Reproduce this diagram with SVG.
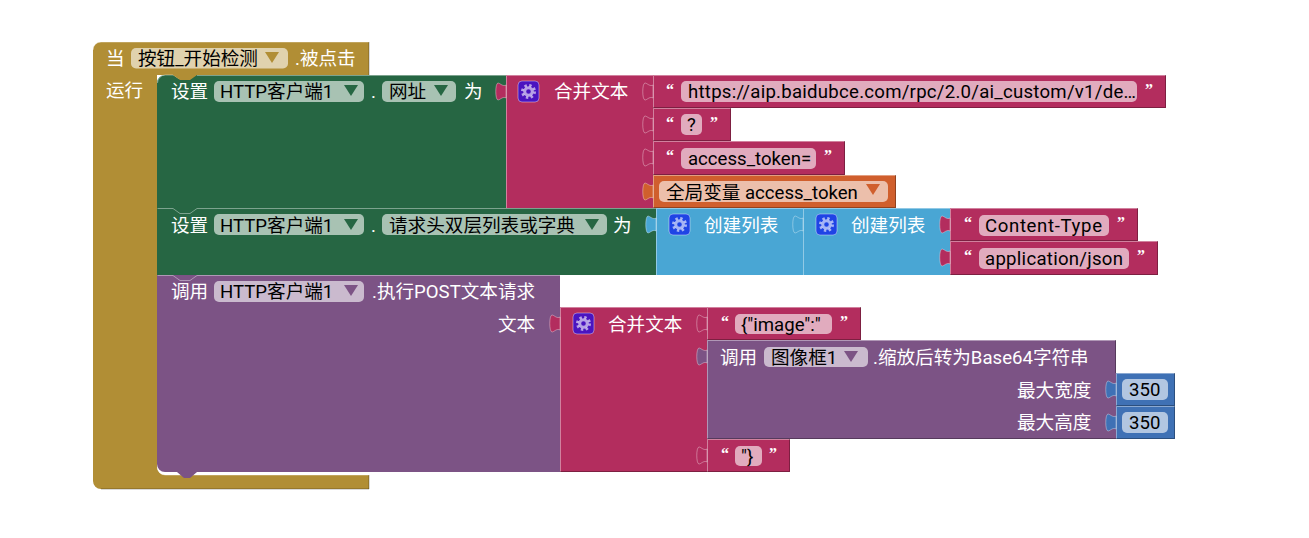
<svg xmlns="http://www.w3.org/2000/svg" width="1309" height="538" viewBox="0 0 1309 538">
<style>
text{font-family:Roboto,"Noto Sans CJK SC",sans-serif;font-size:18.6px;transform:translateY(.6px)}
.w{fill:#fff}.b{fill:#000}
.q{font-family:"Liberation Serif",serif;font-weight:bold;font-size:16px;fill:#fff;transform:translate(1px,-3px)}
.f{fill:#fff;fill-opacity:.6}
.gold{fill:#b18e35}.green{fill:#266643}.mag{fill:#b32d5e}.pur{fill:#7c5385}.blue{fill:#49a6d4}.num{fill:#3f71b5}.org{fill:#d05f2d}
.lt{fill:none;stroke:#fff;stroke-opacity:.4;stroke-width:1}
.dk{fill:none;stroke:#000;stroke-opacity:.3;stroke-width:1}
.ts{stroke:#fff;stroke-opacity:.35;stroke-width:1}
.ga{fill:none;stroke:#fff;stroke-opacity:.6;stroke-width:3}
.gb{fill:none;stroke:#fff;stroke-opacity:.6;stroke-width:2.6;stroke-dasharray:2.4 2.47}
</style>
<defs>
<path id="tab" d="M0,2 c-3,2 -6,-2 -8,-2 c-3,0 -3,17 0,17 c2,0 5,-4 8,-2 z"/>
<path id="tri" d="M0,0 h14 l-7,11z"/>
<g id="gear"><circle cx="10.5" cy="10.5" r="3.8" class="ga"/><circle cx="10.5" cy="10.5" r="6.2" class="gb"/></g>
</defs>

<g id="when-block">
<path class="gold" d="M93,50 a8,8 0 0 1 8,-8 H369 V75 H157 V467 a8,8 0 0 0 8,8 H369 V489 H101 a8,8 0 0 1 -8,-8 Z"/>
<path class="lt" d="M93,50 a8,8 0 0 1 8,-8 H369 M157.500,467 a8,8 0 0 0 8,8 H369"/>
<path class="dk" d="M369,42 V75 M369,475 V489 H101"/>
<text class="w" x="106" y="64">当</text>
<rect class="f" x="131" y="48" width="157" height="20.500" rx="5"/>
<text class="b" x="138" y="64">按钮_开始检测</text>
<use href="#tri" x="265" y="52" class="gold"/>
<text class="w" x="295" y="64">.被点击</text>
<text class="w" x="106" y="96">运行</text>
</g>

<g id="set-url">
<path class="green" d="M157,83 a8,8 0 0 1 8,-8 H173 l6,4 h11 l6,-4 H506 V208 H157 Z"/>
<path class="gold" d="M173,75 l7,5 h10 l7,-5z"/>
<path class="lt" d="M157.500,83 a8,8 0 0 1 8,-8 H173 M197,75.500 H506"/>
<text class="w" x="171" y="97">设置</text>
<rect class="f" x="214" y="81" width="150" height="21" rx="5"/>
<text class="b" x="220" y="97">HTTP客户端1</text>
<use href="#tri" x="344" y="85" class="green"/>
<text class="w" x="371" y="97">.</text>
<rect class="f" x="382" y="81" width="74" height="21" rx="5"/>
<text class="b" x="389" y="97">网址</text>
<use href="#tri" x="434" y="85" class="green"/>
<text class="w" x="464" y="97">为</text>
</g>

<g id="set-headers">
<path class="green" d="M157,208 H656 V275 H157 Z"/>
<path class="lt" d="M157.500,208.500 H173 l7,5 h10 l7,-5 H656"/>
<text class="w" x="171" y="231">设置</text>
<rect class="f" x="214" y="214" width="150" height="21" rx="5"/>
<text class="b" x="220" y="231">HTTP客户端1</text>
<use href="#tri" x="344" y="219" class="green"/>
<text class="w" x="371" y="231">.</text>
<rect class="f" x="382" y="214" width="225" height="21" rx="5"/>
<text class="b" x="389" y="231">请求头双层列表或字典</text>
<use href="#tri" x="585" y="219" class="green"/>
<text class="w" x="613" y="231">为</text>
</g>

<g id="call-post">
<path class="pur" d="M157,275 H560 V472 H197 l-7,6 h-6 l-7,-6 H165 a8,8 0 0 1 -8,-8 Z"/>
<path class="lt" d="M157.500,275.500 H173 l7,5 h10 l7,-5 H560"/>
<text class="w" x="171" y="297">调用</text>
<rect class="f" x="214" y="281" width="150" height="21" rx="5"/>
<text class="b" x="220" y="297">HTTP客户端1</text>
<use href="#tri" x="344" y="285" class="pur"/>
<text class="w" x="372" y="297">.执行POST文本请求</text>
<text class="w" x="498" y="330">文本</text>
</g>

<g id="join-url">
<rect class="mag" x="506" y="75" width="147" height="133"/>
<use href="#tab" x="506" y="83" class="mag ts"/>
<path class="lt" d="M506.500,208 V75.500 H653"/>
<rect x="518" y="81" width="21" height="21" rx="4" fill="#4a14c0" stroke="#fff" stroke-opacity=".4"/>
<use href="#gear" x="518" y="81"/>
<text class="w" x="554" y="97">合并文本</text>
</g>

<g id="text-url">
<rect class="mag" x="653" y="75" width="513" height="33"/>
<use href="#tab" x="653" y="83" class="mag ts"/>
<path class="lt" d="M653.500,108 V75.500 H1166"/><path class="dk" d="M1165.500,75 V107.500 H653"/>
<text class="q" x="665" y="98">“</text>
<rect class="f" x="681" y="81" width="456" height="21" rx="5"/>
<text class="b" x="688" y="97" textLength="448">https://aip.baidubce.com/rpc/2.0/ai_custom/v1/de…</text>
<text class="q" x="1144" y="98">”</text>
</g>
<g id="text-question">
<rect class="mag" x="653" y="108" width="78" height="33"/>
<use href="#tab" x="653" y="116" class="mag ts"/>
<path class="lt" d="M653.500,141 V108.500 H731"/><path class="dk" d="M730.500,108 V140.500 H653"/>
<text class="q" x="665" y="131">“</text>
<rect class="f" x="681" y="114" width="21" height="21" rx="5"/>
<text class="b" x="687" y="130">?</text>
<text class="q" x="709" y="131">”</text>
</g>
<g id="text-token">
<rect class="mag" x="653" y="141" width="192" height="34"/>
<use href="#tab" x="653" y="149" class="mag ts"/>
<path class="lt" d="M653.500,175 V141.500 H845"/><path class="dk" d="M844.500,141 V174.500 H653"/>
<text class="q" x="665" y="164">“</text>
<rect class="f" x="681" y="148" width="135" height="21" rx="5"/>
<text class="b" x="688" y="164">access_token=</text>
<text class="q" x="823" y="164">”</text>
</g>
<g id="global-token">
<rect class="org" x="653" y="175" width="243" height="33"/>
<use href="#tab" x="653" y="183" class="org ts"/>
<path class="lt" d="M653.500,208 V175.500 H896"/><path class="dk" d="M895.500,175 V207.500 H653"/>
<rect class="f" x="659" y="181" width="229" height="21" rx="5"/>
<text class="b" x="666" y="198">全局变量 access_token</text>
<use href="#tri" x="866" y="184" class="org"/>
</g>

<g id="list-outer">
<rect class="blue" x="656" y="208" width="147" height="67"/>
<use href="#tab" x="656" y="216" class="blue ts"/>
<path class="lt" d="M656.500,275 V208.500 H803"/>
<rect x="669" y="214" width="21" height="21" rx="4" fill="#1f44e5" stroke="#fff" stroke-opacity=".4"/>
<use href="#gear" x="669" y="214"/>
<text class="w" x="704" y="231">创建列表</text>
</g>
<g id="list-inner">
<rect class="blue" x="803" y="208" width="147" height="67"/>
<use href="#tab" x="803" y="216" class="blue ts"/>
<path class="lt" d="M803.500,275 V208.500 H950"/>
<rect x="816" y="214" width="21" height="21" rx="4" fill="#1f44e5" stroke="#fff" stroke-opacity=".4"/>
<use href="#gear" x="816" y="214"/>
<text class="w" x="851" y="231">创建列表</text>
</g>
<g id="text-content-type">
<rect class="mag" x="950" y="208" width="188" height="33"/>
<use href="#tab" x="950" y="216" class="mag ts"/>
<path class="lt" d="M950.500,241 V208.500 H1138"/><path class="dk" d="M1137.500,208 V240.500 H950"/>
<text class="q" x="963" y="231">“</text>
<rect class="f" x="979" y="215" width="130" height="21" rx="5"/>
<text class="b" x="985" y="231" textLength="117">Content-Type</text>
<text class="q" x="1116" y="231">”</text>
</g>
<g id="text-json">
<rect class="mag" x="950" y="241" width="208" height="34"/>
<use href="#tab" x="950" y="249" class="mag ts"/>
<path class="lt" d="M950.500,275 V241.500 H1158"/><path class="dk" d="M1157.500,241 V274.500 H950"/>
<text class="q" x="963" y="264">“</text>
<rect class="f" x="979" y="248" width="150" height="21" rx="5"/>
<text class="b" x="985" y="264" textLength="138">application/json</text>
<text class="q" x="1136" y="264">”</text>
</g>

<g id="join-body">
<rect class="mag" x="560" y="307" width="147" height="165"/>
<use href="#tab" x="560" y="315" class="mag ts"/>
<path class="lt" d="M560.500,472 V307.500 H707"/><path class="dk" d="M560,471.500 H707"/>
<rect x="573" y="313" width="21" height="21" rx="4" fill="#4a14c0" stroke="#fff" stroke-opacity=".4"/>
<use href="#gear" x="573" y="313"/>
<text class="w" x="608" y="330">合并文本</text>
</g>
<g id="text-image">
<rect class="mag" x="707" y="307" width="154" height="33"/>
<use href="#tab" x="707" y="315" class="mag ts"/>
<path class="lt" d="M707.500,340 V307.500 H861"/><path class="dk" d="M860.500,307 V339.500 H707"/>
<text class="q" x="720" y="330">“</text>
<rect class="f" x="735" y="314" width="97" height="20" rx="5"/>
<text class="b" x="741" y="330">{"image":"</text>
<text class="q" x="839" y="330">”</text>
</g>
<g id="call-base64">
<rect class="pur" x="707" y="340" width="409" height="99"/>
<use href="#tab" x="707" y="348" class="pur ts"/>
<path class="lt" d="M707.500,439 V340.500 H1116"/><path class="dk" d="M1115.500,340 V373 M1115.500,439 V438.500 H707"/>
<text class="w" x="720" y="363">调用</text>
<rect class="f" x="764" y="347" width="104" height="20" rx="5"/>
<text class="b" x="771" y="363">图像框1</text>
<use href="#tri" x="844" y="351" class="pur"/>
<text class="w" x="873" y="363">.缩放后转为Base64字符串</text>
<text class="w" x="1017" y="396">最大宽度</text>
<text class="w" x="1017" y="428">最大高度</text>
</g>
<g id="num-width">
<rect class="num" x="1116" y="373" width="59" height="33"/>
<use href="#tab" x="1116" y="381" class="num ts"/>
<path class="lt" d="M1116.500,406 V373.500 H1175"/><path class="dk" d="M1174.500,373 V405.500 H1116"/>
<rect class="f" x="1122" y="379" width="46" height="21" rx="5"/>
<text class="b" x="1129" y="395">350</text>
</g>
<g id="num-height">
<rect class="num" x="1116" y="406" width="59" height="33"/>
<use href="#tab" x="1116" y="414" class="num ts"/>
<path class="lt" d="M1116.500,439 V406.500 H1175"/><path class="dk" d="M1174.500,406 V438.500 H1116"/>
<rect class="f" x="1122" y="412" width="46" height="21" rx="5"/>
<text class="b" x="1129" y="428">350</text>
</g>
<g id="text-close">
<rect class="mag" x="707" y="439" width="83" height="33"/>
<use href="#tab" x="707" y="447" class="mag ts"/>
<path class="lt" d="M707.500,472 V439.500 H790"/><path class="dk" d="M789.500,439 V471.500 H707"/>
<text class="q" x="720" y="462">“</text>
<rect class="f" x="735" y="446" width="27" height="20" rx="5"/>
<text class="b" x="741" y="462">"}</text>
<text class="q" x="768" y="462">”</text>
</g>
<g id="connectors"></g>
</svg>
